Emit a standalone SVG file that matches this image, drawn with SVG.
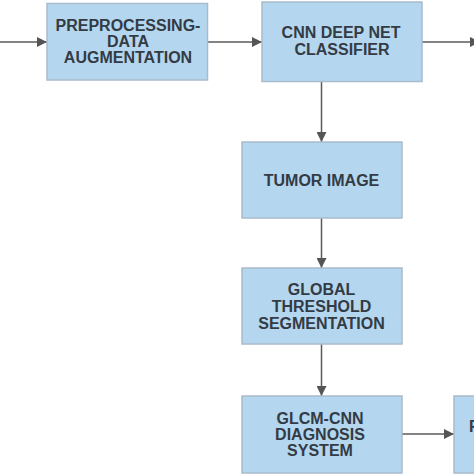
<svg xmlns="http://www.w3.org/2000/svg" width="474" height="474" viewBox="0 0 474 474">
<defs>
<style>
.box{fill:#b5d6ef;stroke:#a8bccb;stroke-width:1.5}
.lbl{font-family:"Liberation Sans",Arial,sans-serif;font-weight:bold;font-size:16px;fill:#333b44;text-anchor:middle}
.edge{stroke:#5a5a5a;stroke-width:1.5;fill:none;marker-end:url(#ah)}
</style>
<marker id="ah" viewBox="0 0 10 10" refX="10" refY="5" markerWidth="10" markerHeight="10" markerUnits="userSpaceOnUse" orient="auto">
<path d="M0,0 L10,5 L0,10 Z" fill="#555"/>
</marker>
</defs>
<rect width="474" height="474" fill="#ffffff"/>
<g id="connectors">
<line class="edge" x1="0" y1="42" x2="47" y2="42"/>
<line class="edge" x1="208" y1="42" x2="262" y2="42"/>
<line class="edge" x1="422" y1="42" x2="480" y2="42"/>
<line class="edge" x1="321.5" y1="82" x2="321.5" y2="142"/>
<line class="edge" x1="321.5" y1="218" x2="321.5" y2="268"/>
<line class="edge" x1="321.5" y1="344" x2="321.5" y2="396"/>
<line class="edge" x1="402" y1="434" x2="454" y2="434"/>
</g>
<g id="preprocessing">
<rect class="box" x="47" y="3.5" width="160.5" height="76.5"/>
<text class="lbl"><tspan x="128" y="31">PREPROCESSING-</tspan><tspan x="128" y="47.2">DATA</tspan><tspan x="128" y="63.4">AUGMENTATION</tspan></text>
</g>
<g id="cnn">
<rect class="box" x="262" y="2" width="160" height="79.5"/>
<text class="lbl"><tspan x="341" y="38.3">CNN DEEP NET</tspan><tspan x="342" y="55">CLASSIFIER</tspan></text>
</g>
<g id="tumor">
<rect class="box" x="242" y="142" width="160" height="76"/>
<text class="lbl"><tspan x="321.5" y="185.7">TUMOR IMAGE</tspan></text>
</g>
<g id="global">
<rect class="box" x="242" y="268" width="160" height="76"/>
<text class="lbl"><tspan x="321.5" y="295">GLOBAL</tspan><tspan x="321.5" y="312.3">THRESHOLD</tspan><tspan x="321.5" y="329">SEGMENTATION</tspan></text>
</g>
<g id="glcm">
<rect class="box" x="242" y="396" width="160" height="77"/>
<text class="lbl"><tspan x="320" y="424">GLCM-CNN</tspan><tspan x="320" y="440">DIAGNOSIS</tspan><tspan x="320" y="456.2">SYSTEM</tspan></text>
</g>
<g id="result">
<rect class="box" x="454" y="396" width="60" height="77"/>
<text class="lbl" style="text-anchor:start"><tspan x="469" y="432">R</tspan></text>
</g>
</svg>
